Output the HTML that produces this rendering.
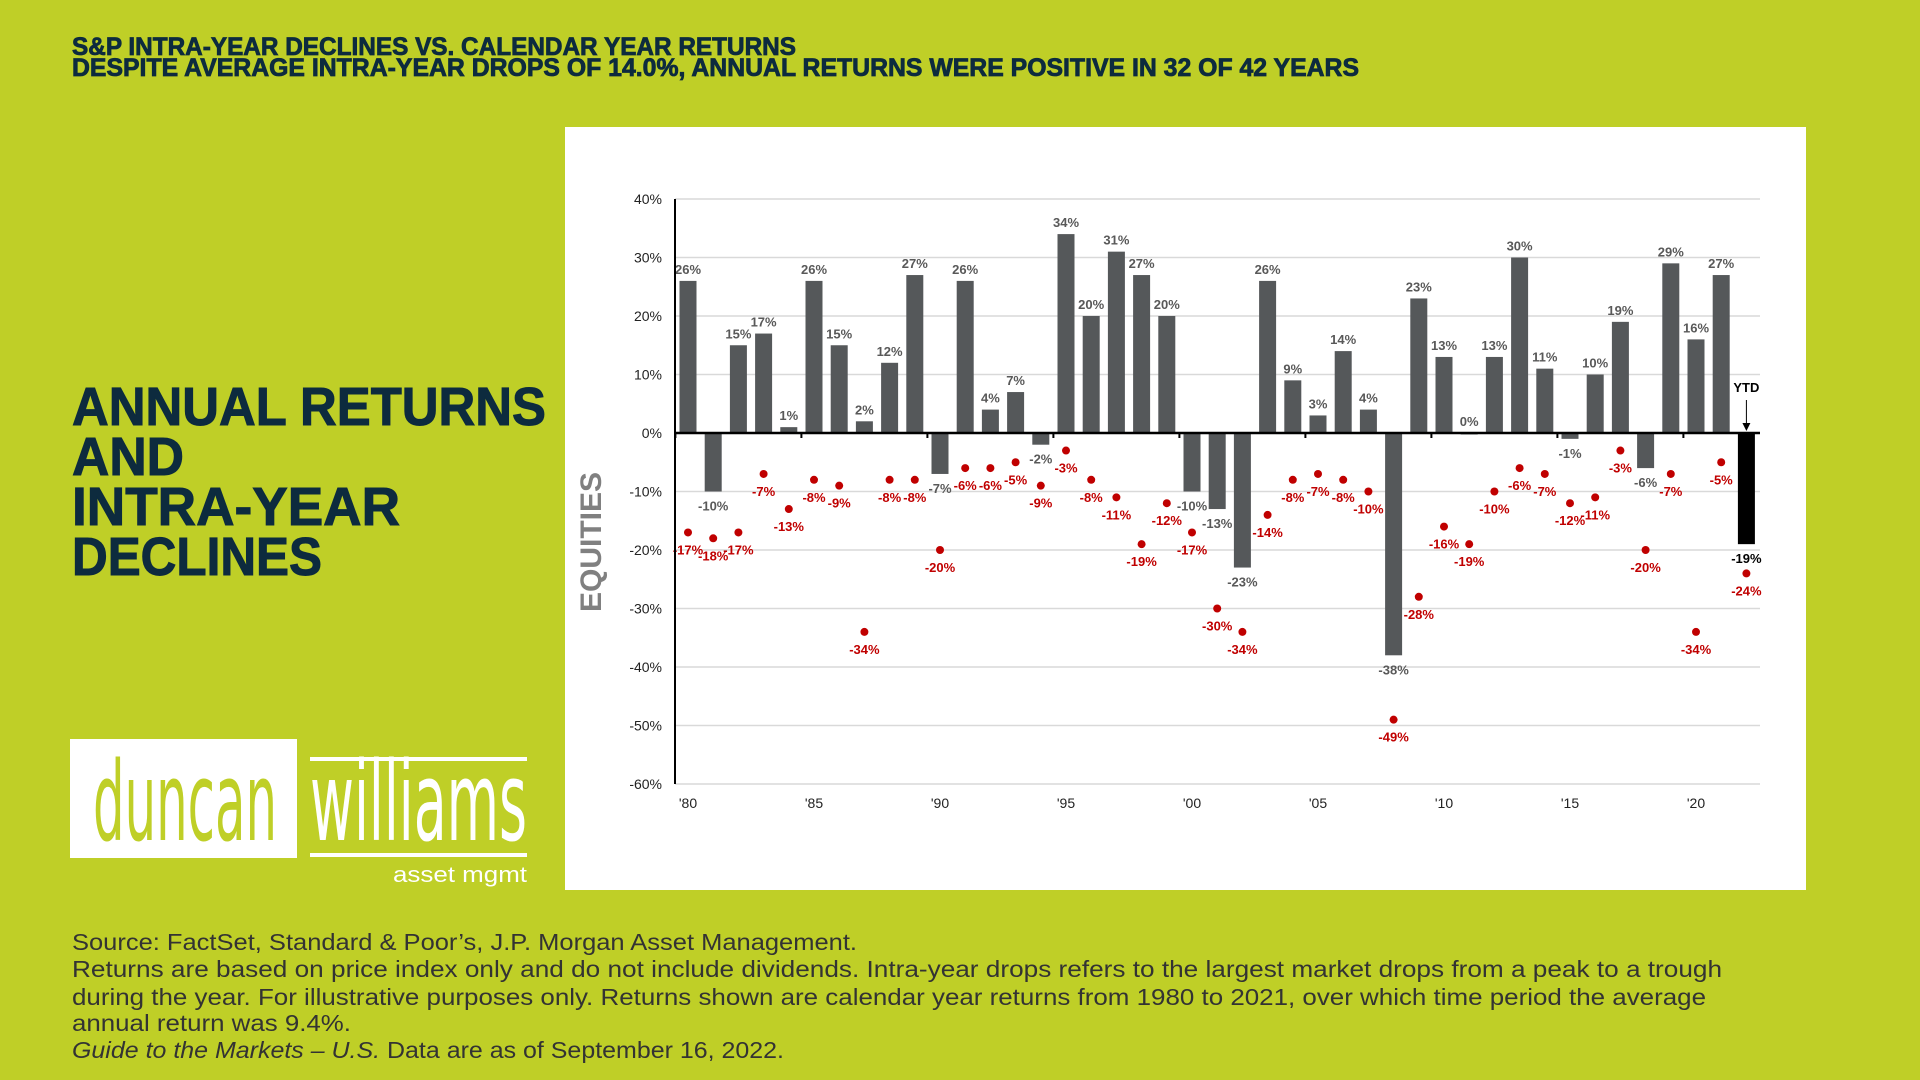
<!DOCTYPE html>
<html><head><meta charset="utf-8"><style>
html,body{margin:0;padding:0;background:#bfcf27;}
svg{display:block;}
</style></head><body>
<svg id="page" width="1920" height="1080" viewBox="0 0 1920 1080" xmlns="http://www.w3.org/2000/svg" font-family="Liberation Sans, sans-serif">
<rect width="1920" height="1080" fill="#bfcf27"/>
<g fill="#0d2b3e" font-weight="bold">
<text x="72" y="55" font-size="25" textLength="724" lengthAdjust="spacingAndGlyphs" stroke="#0d2b3e" stroke-width="0.8">S&amp;P INTRA-YEAR DECLINES VS. CALENDAR YEAR RETURNS</text>
<text x="72" y="76" font-size="25" textLength="1287" lengthAdjust="spacingAndGlyphs" stroke="#0d2b3e" stroke-width="0.8">DESPITE AVERAGE INTRA-YEAR DROPS OF 14.0%, ANNUAL RETURNS WERE POSITIVE IN 32 OF 42 YEARS</text>
</g>
<g fill="#0d2b3e" font-weight="bold" font-size="54" stroke="#0d2b3e" stroke-width="1">
<text x="72" y="425" textLength="474" lengthAdjust="spacingAndGlyphs">ANNUAL RETURNS</text>
<text x="72" y="475" textLength="112" lengthAdjust="spacingAndGlyphs">AND</text>
<text x="72" y="525" textLength="328" lengthAdjust="spacingAndGlyphs">INTRA-YEAR</text>
<text x="72" y="575" textLength="250" lengthAdjust="spacingAndGlyphs">DECLINES</text>
</g>
<g>
<rect x="70" y="739" width="227" height="119" fill="#fff"/>
<text x="93" y="840" font-size="110" fill="#bfcf27" textLength="184" lengthAdjust="spacingAndGlyphs" font-family="DejaVu Sans, sans-serif" font-weight="normal">duncan</text>
<rect x="310" y="757" width="217" height="4" fill="#fff"/>
<rect x="310" y="853" width="217" height="4" fill="#fff"/>
<text x="310" y="840" font-size="110" fill="#fff" textLength="217" lengthAdjust="spacingAndGlyphs" font-family="DejaVu Sans, sans-serif">williams</text>
<text x="393" y="882" font-size="22" fill="#fff" textLength="134" lengthAdjust="spacingAndGlyphs">asset mgmt</text>
</g>
<rect x="565" y="127" width="1241" height="763" fill="#fff"/>
<text transform="translate(601,542) rotate(-90)" text-anchor="middle" font-size="30" font-weight="bold" fill="#808080">EQUITIES</text>
<g id="chart"></g>
<g fill="#333" font-size="23">
<text x="72" y="950" textLength="785" lengthAdjust="spacingAndGlyphs">Source: FactSet, Standard &amp; Poor’s, J.P. Morgan Asset Management.</text>
<text x="72" y="977" textLength="1650" lengthAdjust="spacingAndGlyphs">Returns are based on price index only and do not include dividends. Intra-year drops refers to the largest market drops from a peak to a trough</text>
<text x="72" y="1005" textLength="1634" lengthAdjust="spacingAndGlyphs">during the year. For illustrative purposes only. Returns shown are calendar year returns from 1980 to 2021, over which time period the average</text>
<text x="72" y="1031" textLength="279" lengthAdjust="spacingAndGlyphs">annual return was 9.4%.</text>
<text x="72" y="1058" textLength="712" lengthAdjust="spacingAndGlyphs"><tspan font-style="italic">Guide to the Markets – U.S.</tspan> Data are as of September 16, 2022.</text>
</g>
</svg>
<script>
const years = [1980,1981,1982,1983,1984,1985,1986,1987,1988,1989,1990,1991,1992,1993,1994,1995,1996,1997,1998,1999,2000,2001,2002,2003,2004,2005,2006,2007,2008,2009,2010,2011,2012,2013,2014,2015,2016,2017,2018,2019,2020,2021,2022];
const annualReturns = [26,-10,15,17,1,26,15,2,12,27,-7,26,4,7,-2,34,20,31,27,20,-10,-13,-23,26,9,3,14,4,-38,23,13,0,13,30,11,-1,10,19,-6,29,16,27,-19];
const intraYearDrops = [-17,-18,-17,-7,-13,-8,-9,-34,-8,-8,-20,-6,-6,-5,-9,-3,-8,-11,-19,-12,-17,-30,-34,-14,-8,-7,-8,-10,-49,-28,-16,-19,-10,-6,-7,-12,-11,-3,-20,-7,-34,-5,-24];
const yTicks = [40,30,20,10,0,-10,-20,-30,-40,-50,-60];
const xTickYears = [1980,1985,1990,1995,2000,2005,2010,2015,2020];

const NS = 'http://www.w3.org/2000/svg';
const g = document.getElementById('chart');
const X0 = 688, STEP = 25.2, Y0 = 433, PER = 5.85;
const xs = yr => X0 + (yr - 1980) * STEP;
const ys = v => Y0 - v * PER;
function mk(tag, attrs, parent) {
  const e = document.createElementNS(NS, tag);
  for (const k in attrs) e.setAttribute(k, attrs[k]);
  (parent || g).appendChild(e);
  return e;
}
yTicks.forEach(t => {
  if (t !== 0) {
    const l = mk('line', {x1: 675, x2: 1760, y1: ys(t), y2: ys(t), stroke: '#d9d9d9', 'stroke-width': 1.5});
    
    
  }
  const tx = mk('text', {x: 662, y: ys(t) + 5, 'text-anchor': 'end', 'font-size': 14, fill: '#222'});
  tx.textContent = t + '%';
  
  
});
years.forEach((yr, i) => {
  const v = annualReturns[i];
  const last = i === years.length - 1;
  const x = xs(yr);
  const top = Math.min(ys(v), Y0), h = Math.abs(ys(v) - Y0);
  const b = mk('rect', {x: x - 8.5, y: top, width: 17, height: Math.max(h, 1.5), fill: last ? '#000' : '#55585a'});
  
  
  const lt = mk('text', {x: x, y: v >= 0 ? ys(v) - 7 : ys(v) + 19, 'text-anchor': 'middle', 'font-size': 13, 'font-weight': 'bold', fill: last ? '#000' : '#595959'});
  lt.textContent = v + '%';
  
  
  const d = intraYearDrops[i];
  const c = mk('circle', {cx: x, cy: ys(d), r: 4, fill: '#c00000'});
  
  
  const dt = mk('text', {x: x, y: ys(d) + 22, 'text-anchor': 'middle', 'font-size': 13, 'font-weight': 'bold', fill: '#c00000'});
  dt.textContent = d + '%';
  
  
});
const ax = mk('line', {x1: 675, x2: 675, y1: 199, y2: 784, stroke: '#000', 'stroke-width': 2});


const zl = mk('line', {x1: 675, x2: 1760, y1: Y0, y2: Y0, stroke: '#000', 'stroke-width': 2.5});


xTickYears.forEach(yr => {
  const x = xs(yr);
  const tk = mk('line', {x1: x - STEP / 2, x2: x - STEP / 2, y1: Y0, y2: Y0 + 5, stroke: '#000', 'stroke-width': 2});
  
  
  const t = mk('text', {x: x, y: 808, 'text-anchor': 'middle', 'font-size': 14, fill: '#222'});
  t.textContent = "'" + String(yr).slice(2);
  
  
});
const yx = xs(2022);
const ytd = mk('text', {x: yx, y: 392, 'text-anchor': 'middle', 'font-size': 13, 'font-weight': 'bold', fill: '#000'});
ytd.textContent = 'YTD';


const ar = mk('line', {x1: yx, x2: yx, y1: 400, y2: 425, stroke: '#000', 'stroke-width': 1});


const ah = mk('path', {d: `M${yx - 4} 423 L${yx + 4} 423 L${yx} 431 Z`, fill: '#000'});


</script>
</body></html>
